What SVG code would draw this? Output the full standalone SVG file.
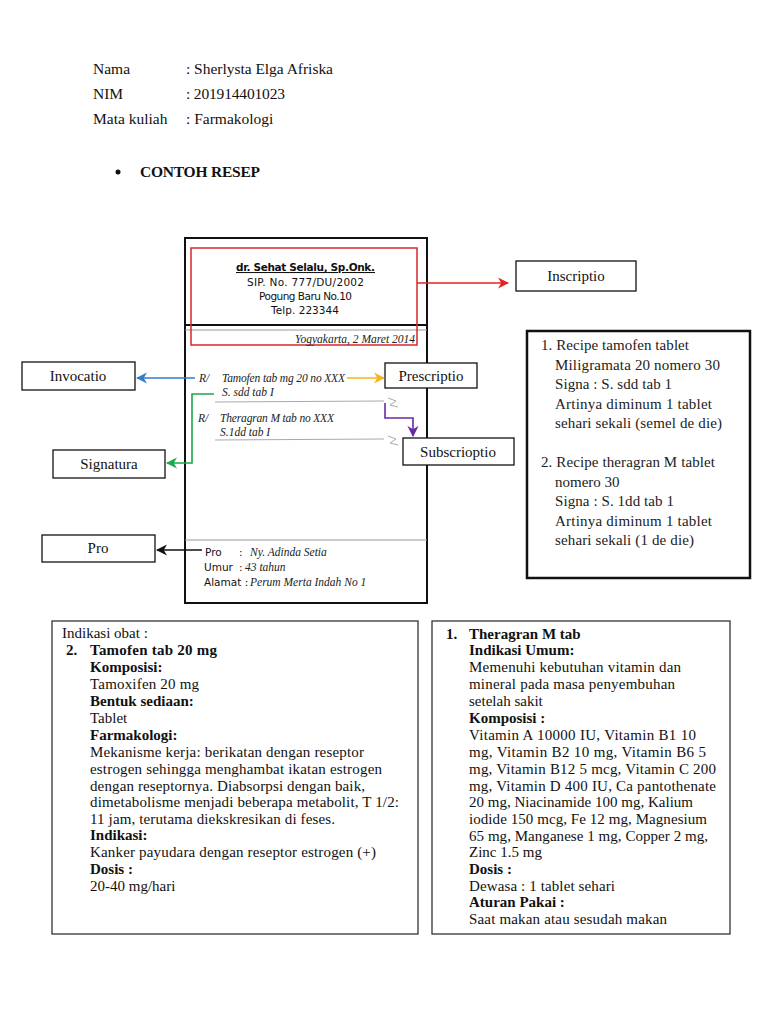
<svg xmlns="http://www.w3.org/2000/svg" width="768" height="1024" viewBox="0 0 768 1024">
<defs>
<style>
.t{font-family:"Liberation Serif","Times New Roman",serif;font-size:15px;fill:#111}
.b{font-weight:bold}
.hd{font-family:"Liberation Serif",serif;font-size:15.5px;fill:#111}
.lbl{font-family:"Liberation Serif",serif;font-size:15px;fill:#111;text-anchor:middle}
.box{fill:#fff;stroke:#111;stroke-width:1.3}
.cs{font-family:"DejaVu Sans",sans-serif;font-size:10.5px;fill:#111}
.hw{font-family:"Liberation Serif",serif;font-style:italic;font-size:11.5px;fill:#222}
.info{font-family:"Liberation Serif",serif;font-size:15px;fill:#222}
</style>
<marker id="ar-red" viewBox="0 0 10 10" refX="9" refY="5" markerWidth="7" markerHeight="7" orient="auto"><path d="M0,0 L10,5 L0,10 L3,5 Z" fill="#e52222"/></marker>
<marker id="ar-blue" viewBox="0 0 10 10" refX="9" refY="5" markerWidth="7" markerHeight="7" orient="auto"><path d="M0,0 L10,5 L0,10 L3,5 Z" fill="#2f7fc6"/></marker>
<marker id="ar-yel" viewBox="0 0 10 10" refX="9" refY="5" markerWidth="7" markerHeight="7" orient="auto"><path d="M0,0 L10,5 L0,10 L3,5 Z" fill="#f5b51c"/></marker>
<marker id="ar-grn" viewBox="0 0 10 10" refX="9" refY="5" markerWidth="7" markerHeight="7" orient="auto"><path d="M0,0 L10,5 L0,10 L3,5 Z" fill="#1aa84a"/></marker>
<marker id="ar-pur" viewBox="0 0 10 10" refX="9" refY="5" markerWidth="7" markerHeight="7" orient="auto"><path d="M0,0 L10,5 L0,10 L3,5 Z" fill="#6a2aa8"/></marker>
<marker id="ar-blk" viewBox="0 0 10 10" refX="9" refY="5" markerWidth="7" markerHeight="7" orient="auto"><path d="M0,0 L10,5 L0,10 L3,5 Z" fill="#111"/></marker>
</defs>
<rect width="768" height="1024" fill="#fff"/>

<g id="header">
<text class="hd" x="93" y="74">Nama</text>
<text class="hd" x="186" y="74" textLength="147">: Sherlysta Elga Afriska</text>
<text class="hd" x="93" y="99">NIM</text>
<text class="hd" x="186" y="99" textLength="99">: 201914401023</text>
<text class="hd" x="93" y="124">Mata kuliah</text>
<text class="hd" x="186" y="124">: Farmakologi</text>
<circle cx="118" cy="172" r="2.5" fill="#111"/>
<text class="hd b" x="140" y="177" textLength="120">CONTOH RESEP</text>
</g>

<g id="resep">
<rect x="185" y="238" width="242" height="365" fill="#fff" stroke="#111" stroke-width="2"/>
<line x1="185" y1="325" x2="427" y2="325" stroke="#111" stroke-width="2"/>
<line x1="185" y1="330" x2="427" y2="330" stroke="#999" stroke-width="1"/>
<rect x="191" y="248" width="226" height="97" fill="none" stroke="#d9262b" stroke-width="1.5"/>
<text class="cs" x="236" y="271" font-weight="bold" text-decoration="underline" textLength="139">dr. Sehat Selalu, Sp.Onk.</text>
<text class="cs" x="247" y="286" textLength="117">SIP. No. 777/DU/2002</text>
<text class="cs" x="259" y="300" textLength="93">Pogung Baru No.10</text>
<text class="cs" x="271" y="314" textLength="68">Telp. 223344</text>
<text class="hw" x="415" y="343" font-size="8.3" text-anchor="end">Yogyakarta, 2 Maret 2014</text>
<text class="hw" x="199" y="382">R/</text>
<text class="hw" x="222" y="382" textLength="123">Tamofen tab mg 20 no XXX</text>
<text class="hw" x="222" y="396">S. sdd tab I</text>
<path d="M215,402 L384,401" stroke="#aaa" stroke-width="1.2" fill="none"/>
<path d="M388,398 L396,401 L390,405 L398,407" stroke="#aaa" stroke-width="1" fill="none"/>
<text class="hw" x="198" y="422">R/</text>
<text class="hw" x="220" y="422" textLength="114">Theragran M tab no XXX</text>
<text class="hw" x="220" y="436">S.1dd tab I</text>
<path d="M215,440 L384,439" stroke="#aaa" stroke-width="1.2" fill="none"/>
<path d="M388,436 L396,439 L390,443 L398,445" stroke="#aaa" stroke-width="1" fill="none"/>
<line x1="185" y1="540" x2="427" y2="540" stroke="#999" stroke-width="1"/>
<text class="cs" x="205" y="556">Pro</text>
<text class="cs" x="239" y="556">:</text>
<text class="hw" x="250" y="556">Ny. Adinda Setia</text>
<text class="cs" x="204" y="571">Umur</text>
<text class="cs" x="239" y="571">:</text>
<text class="hw" x="245" y="571">43 tahun</text>
<text class="cs" x="204" y="586">Alamat :</text>
<text class="hw" x="250" y="586">Perum Merta Indah No 1</text>
</g>

<g id="inscriptio"><rect class="box" x="516" y="261" width="120" height="30"/><text class="lbl" x="576" y="281">Inscriptio</text></g>
<g id="invocatio"><rect class="box" x="22" y="362" width="113" height="28"/><text class="lbl" x="78" y="381">Invocatio</text></g>
<g id="prescriptio"><rect class="box" x="385" y="363" width="92" height="25"/><text class="lbl" x="431" y="381">Prescriptio</text></g>
<g id="signatura"><rect class="box" x="53" y="450" width="112" height="28"/><text class="lbl" x="109" y="469">Signatura</text></g>
<g id="subscrioptio"><rect class="box" x="403" y="438" width="111" height="27"/><text class="lbl" x="458" y="457">Subscrioptio</text></g>
<g id="pro"><rect class="box" x="42" y="535" width="113" height="27"/><text class="lbl" x="98" y="553">Pro</text></g>

<g id="connectors" fill="none" stroke-width="1.6">
<line x1="417" y1="283" x2="508" y2="283" stroke="#e52222" marker-end="url(#ar-red)"/>
<line x1="195" y1="378" x2="137" y2="378" stroke="#2f7fc6" marker-end="url(#ar-blue)"/>
<line x1="347" y1="378" x2="384" y2="378" stroke="#f5b51c" marker-end="url(#ar-yel)"/>
<polyline points="214,394 192,394 192,463 167,463" stroke="#1aa84a" marker-end="url(#ar-grn)"/>
<polyline points="385,403 385,418 413,418 413,436" stroke="#6a2aa8" marker-end="url(#ar-pur)"/>
<line x1="202" y1="550" x2="157" y2="550" stroke="#111" marker-end="url(#ar-blk)"/>
</g>

<g id="keterangan">
<rect x="527" y="331" width="223" height="247" fill="#fff" stroke="#111" stroke-width="2.5"/>
<text class="info" x="541" y="350" textLength="148">1. Recipe tamofen tablet</text>
<text class="info" x="555" y="370" textLength="165">Miligramata 20 nomero 30</text>
<text class="info" x="555" y="389" textLength="117">Signa : S. sdd tab 1</text>
<text class="info" x="555" y="409" textLength="157">Artinya diminum 1 tablet</text>
<text class="info" x="555" y="428" textLength="167">sehari sekali (semel de die)</text>
<text class="info" x="541" y="467" textLength="174">2. Recipe theragran M tablet</text>
<text class="info" x="555" y="487">nomero 30</text>
<text class="info" x="555" y="506" textLength="119">Signa : S. 1dd tab 1</text>
<text class="info" x="555" y="526" textLength="157">Artinya diminum 1 tablet</text>
<text class="info" x="555" y="545" textLength="139">sehari sekali (1 de die)</text>
</g>

<g id="indikasi-tamofen">
<rect x="52" y="621" width="366" height="313" fill="#fff" stroke="#333" stroke-width="1.3"/>
<text class="t" x="62" y="638">Indikasi obat :</text>
<text class="t b" x="66" y="655">2.</text>
<text class="t b" x="90" y="655" textLength="127">Tamofen tab 20 mg</text>
<text class="t b" x="90" y="672">Komposisi:</text>
<text class="t" x="90" y="689" textLength="109">Tamoxifen 20 mg</text>
<text class="t b" x="90" y="706">Bentuk sediaan:</text>
<text class="t" x="90" y="723">Tablet</text>
<text class="t b" x="90" y="740">Farmakologi:</text>
<text class="t" x="90" y="757" textLength="274">Mekanisme kerja: berikatan dengan reseptor</text>
<text class="t" x="90" y="774" textLength="292">estrogen sehingga menghambat ikatan estrogen</text>
<text class="t" x="90" y="791" textLength="275">dengan reseptornya. Diabsorpsi dengan baik,</text>
<text class="t" x="90" y="807" textLength="309">dimetabolisme menjadi beberapa metabolit, T 1/2:</text>
<text class="t" x="90" y="824" textLength="245">11 jam, terutama diekskresikan di feses.</text>
<text class="t b" x="90" y="840">Indikasi:</text>
<text class="t" x="90" y="857" textLength="286">Kanker payudara dengan reseptor estrogen (+)</text>
<text class="t b" x="90" y="874">Dosis :</text>
<text class="t" x="90" y="891">20-40 mg/hari</text>
</g>

<g id="indikasi-theragran">
<rect x="432" y="621" width="298" height="313" fill="#fff" stroke="#333" stroke-width="1.3"/>
<text class="t b" x="446" y="639">1.</text>
<text class="t b" x="469" y="639">Theragran M tab</text>
<text class="t b" x="469" y="655">Indikasi Umum:</text>
<text class="t" x="469" y="672" textLength="212">Memenuhi kebutuhan vitamin dan</text>
<text class="t" x="469" y="689" textLength="206">mineral pada masa penyembuhan</text>
<text class="t" x="469" y="706">setelah sakit</text>
<text class="t b" x="469" y="723">Komposisi :</text>
<text class="t" x="469" y="740" textLength="227">Vitamin A 10000 IU, Vitamin B1 10</text>
<text class="t" x="469" y="757" textLength="237">mg, Vitamin B2 10 mg, Vitamin B6 5</text>
<text class="t" x="469" y="774" textLength="247">mg, Vitamin B12 5 mcg, Vitamin C 200</text>
<text class="t" x="469" y="791" textLength="247">mg, Vitamin D 400 IU, Ca pantothenate</text>
<text class="t" x="469" y="807" textLength="224">20 mg, Niacinamide 100 mg, Kalium</text>
<text class="t" x="469" y="824" textLength="238">iodide 150 mcg, Fe 12 mg, Magnesium</text>
<text class="t" x="469" y="841" textLength="239">65 mg, Manganese 1 mg, Copper 2 mg,</text>
<text class="t" x="469" y="857">Zinc 1.5 mg</text>
<text class="t b" x="469" y="874">Dosis :</text>
<text class="t" x="469" y="891" textLength="146">Dewasa : 1 tablet sehari</text>
<text class="t b" x="469" y="907">Aturan Pakai :</text>
<text class="t" x="469" y="924" textLength="198">Saat makan atau sesudah makan</text>
</g>
</svg>
